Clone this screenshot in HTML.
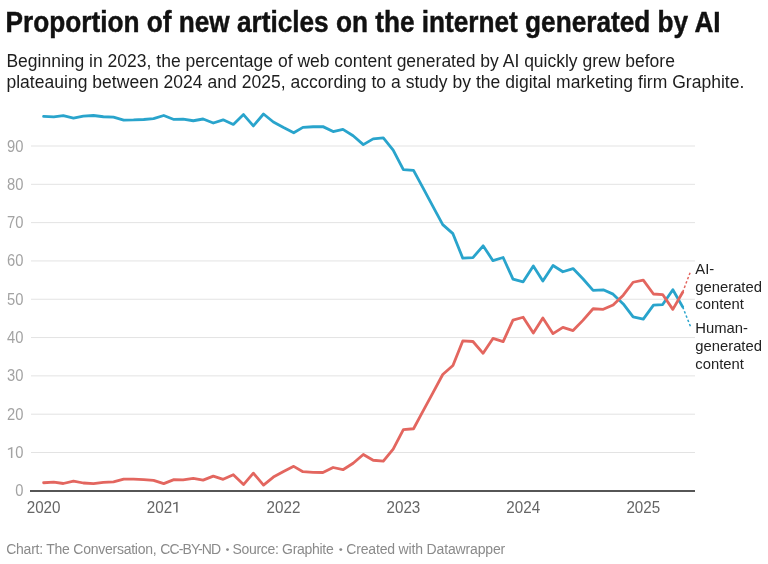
<!DOCTYPE html>
<html><head><meta charset="utf-8"><style>
html,body{margin:0;padding:0;background:#fff;}
body{width:768px;height:564px;overflow:hidden;}
svg{display:block;will-change:transform;font-family:"Liberation Sans",sans-serif;}
</style></head><body>
<svg width="768" height="564" viewBox="0 0 768 564">
<rect width="768" height="564" fill="#fff"/>
<text x="5.6" y="31.6" font-size="29" font-weight="bold" fill="#111" stroke="#111" stroke-width="0.45" textLength="715" lengthAdjust="spacingAndGlyphs">Proportion of new articles on the internet generated by AI</text>
<g font-size="17.5" fill="#1d1d1d">
<text x="6.4" y="66.8" textLength="668.5" lengthAdjust="spacing">Beginning in 2023, the percentage of web content generated by AI quickly grew before</text>
<text x="6.4" y="87.7" textLength="738" lengthAdjust="spacing">plateauing between 2024 and 2025, according to a study by the digital marketing firm Graphite.</text>
</g>
<rect x="31" y="452.00" width="664" height="1" fill="#e3e3e3"/><rect x="31" y="413.69" width="664" height="1" fill="#e3e3e3"/><rect x="31" y="375.37" width="664" height="1" fill="#e3e3e3"/><rect x="31" y="337.06" width="664" height="1" fill="#e3e3e3"/><rect x="31" y="298.75" width="664" height="1" fill="#e3e3e3"/><rect x="31" y="260.44" width="664" height="1" fill="#e3e3e3"/><rect x="31" y="222.12" width="664" height="1" fill="#e3e3e3"/><rect x="31" y="183.81" width="664" height="1" fill="#e3e3e3"/><rect x="31" y="145.50" width="664" height="1" fill="#e3e3e3"/>
<g font-size="16.2" fill="#a3a3a3"><text x="23.4" y="458.0" text-anchor="end" textLength="8.2" lengthAdjust="spacingAndGlyphs">0</text><path d="M12.40,458.00 L12.40,447.10 L11.95,447.10 L7.90,448.65 L7.90,449.95 L10.90,448.90 L10.90,458.00Z" fill="#a3a3a3"/><text x="23.4" y="419.7" text-anchor="end" textLength="16.4" lengthAdjust="spacingAndGlyphs">20</text><text x="23.4" y="381.4" text-anchor="end" textLength="16.4" lengthAdjust="spacingAndGlyphs">30</text><text x="23.4" y="343.1" text-anchor="end" textLength="16.4" lengthAdjust="spacingAndGlyphs">40</text><text x="23.4" y="304.7" text-anchor="end" textLength="16.4" lengthAdjust="spacingAndGlyphs">50</text><text x="23.4" y="266.4" text-anchor="end" textLength="16.4" lengthAdjust="spacingAndGlyphs">60</text><text x="23.4" y="228.1" text-anchor="end" textLength="16.4" lengthAdjust="spacingAndGlyphs">70</text><text x="23.4" y="189.8" text-anchor="end" textLength="16.4" lengthAdjust="spacingAndGlyphs">80</text><text x="23.4" y="151.5" text-anchor="end" textLength="16.4" lengthAdjust="spacingAndGlyphs">90</text><text x="23.4" y="496.4" text-anchor="end" textLength="8.2" lengthAdjust="spacingAndGlyphs">0</text></g>
<g font-size="16.2" fill="#666"><text x="43.6" y="512.6" text-anchor="middle" textLength="33.8" lengthAdjust="spacingAndGlyphs">2020</text><text x="146.84" y="512.6" textLength="25.35" lengthAdjust="spacingAndGlyphs">202</text><path d="M177.59,512.60 L177.59,501.70 L177.14,501.70 L173.09,503.25 L173.09,504.55 L176.09,503.50 L176.09,512.60Z" fill="#666"/><text x="283.5" y="512.6" text-anchor="middle" textLength="33.8" lengthAdjust="spacingAndGlyphs">2022</text><text x="403.4" y="512.6" text-anchor="middle" textLength="33.8" lengthAdjust="spacingAndGlyphs">2023</text><text x="523.2" y="512.6" text-anchor="middle" textLength="33.8" lengthAdjust="spacingAndGlyphs">2024</text><text x="643.3" y="512.6" text-anchor="middle" textLength="33.8" lengthAdjust="spacingAndGlyphs">2025</text></g>
<path d="M43.60,116.35 L53.78,116.95 L63.29,115.60 L73.47,118.05 L83.32,116.10 L93.49,115.50 L103.34,116.75 L113.52,117.20 L123.69,120.03 L133.54,119.90 L143.71,119.50 L153.56,118.65 L163.74,115.50 L173.91,119.45 L183.10,119.20 L193.28,120.75 L203.12,119.00 L213.30,123.03 L223.15,119.80 L233.32,124.45 L243.50,114.55 L253.35,125.95 L263.52,114.00 L273.37,122.00 L283.54,127.55 L293.72,132.75 L302.91,127.40 L313.09,126.75 L322.93,126.63 L333.11,131.60 L342.95,129.40 L353.13,135.80 L363.31,144.60 L373.15,138.85 L383.33,137.90 L393.18,150.05 L403.35,169.55 L413.53,170.35 L422.72,187.40 L432.89,206.30 L442.74,224.60 L452.92,233.65 L462.76,258.15 L472.94,257.60 L483.11,245.80 L492.96,260.65 L503.14,257.50 L512.98,279.05 L523.16,281.85 L533.33,266.00 L542.85,281.05 L553.03,265.45 L562.88,271.75 L573.05,268.55 L582.90,278.75 L593.07,290.35 L603.25,289.80 L613.10,294.15 L623.27,303.90 L633.12,316.85 L643.29,319.05 L653.47,305.10 L662.66,304.55 L672.84,289.75 L682.68,306.90" fill="none" stroke="#29a4cc" stroke-width="2.8" stroke-linejoin="round" stroke-linecap="round"/>
<path d="M43.60,482.75 L53.78,482.15 L63.29,483.50 L73.47,481.05 L83.32,483.00 L93.49,483.60 L103.34,482.35 L113.52,481.90 L123.69,479.08 L133.54,479.20 L143.71,479.60 L153.56,480.45 L163.74,483.60 L173.91,479.65 L183.10,479.90 L193.28,478.35 L203.12,480.10 L213.30,476.08 L223.15,479.30 L233.32,474.65 L243.50,484.55 L253.35,473.15 L263.52,485.10 L273.37,477.10 L283.54,471.55 L293.72,466.35 L302.91,471.70 L313.09,472.35 L322.93,472.48 L333.11,467.50 L342.95,469.70 L353.13,463.30 L363.31,454.50 L373.15,460.25 L383.33,461.20 L393.18,449.05 L403.35,429.55 L413.53,428.75 L422.72,411.70 L432.89,392.80 L442.74,374.50 L452.92,365.45 L462.76,340.95 L472.94,341.50 L483.11,353.30 L492.96,338.45 L503.14,341.60 L512.98,320.05 L523.16,317.25 L533.33,333.10 L542.85,318.05 L553.03,333.65 L562.88,327.35 L573.05,330.55 L582.90,320.35 L593.07,308.75 L603.25,309.30 L613.10,304.95 L623.27,295.20 L633.12,282.25 L643.29,280.05 L653.47,294.00 L662.66,294.55 L672.84,309.35 L682.68,292.20" fill="none" stroke="#e3665f" stroke-width="2.8" stroke-linejoin="round" stroke-linecap="round"/>
<path d="M682.68,292.20 L690.6,271.3" stroke="#e3665f" stroke-width="1.5" stroke-dasharray="2.5,2.1" fill="none"/>
<path d="M682.68,306.90 L690.9,327.6" stroke="#29a4cc" stroke-width="1.5" stroke-dasharray="2.5,2.1" fill="none"/>
<rect x="30" y="490" width="665" height="2" fill="#565656"/>
<g font-size="14.8" fill="#222">
<text x="695.3" y="274.2">AI-</text>
<text x="695.3" y="291.9">generated</text>
<text x="695.3" y="309.4">content</text>
<text x="695.3" y="333.3">Human-</text>
<text x="695.3" y="350.9">generated</text>
<text x="695.3" y="368.5">content</text>
</g>
<g font-size="14" fill="#8a8a8a">
<text x="6.2" y="553.6" textLength="150.5" lengthAdjust="spacing">Chart: The Conversation,</text>
<text x="160.2" y="553.6" textLength="61" lengthAdjust="spacing">CC-BY-ND</text>
<circle cx="227.5" cy="549.6" r="1.45"/>
<text x="232.4" y="553.6" textLength="101.3" lengthAdjust="spacing">Source: Graphite</text>
<circle cx="340.8" cy="549.6" r="1.45"/>
<text x="346.2" y="553.6" textLength="159" lengthAdjust="spacing">Created with Datawrapper</text>
</g>
</svg>
</body></html>
